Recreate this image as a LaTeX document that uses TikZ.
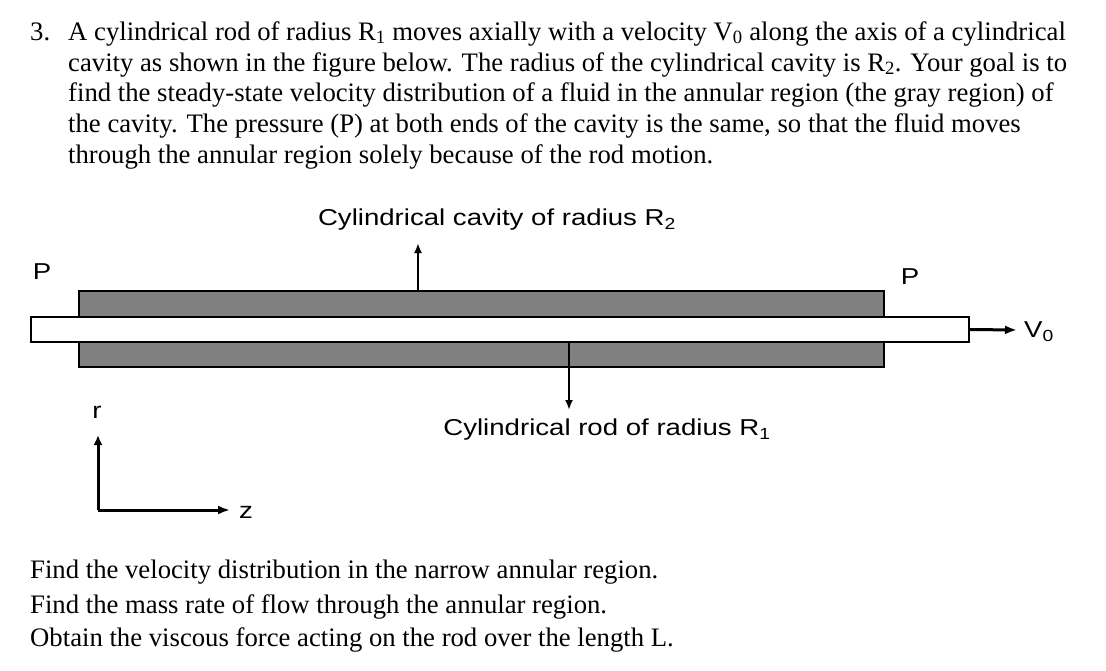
\documentclass[tikz,border=0pt]{standalone}
\usetikzlibrary{arrows.meta}
\usepackage{fontspec}
\setmainfont{Liberation Serif}
\newfontfamily\labfont[FakeStretch=1.2]{Liberation Sans}
\newcommand{\sbs}[1]{\textsubscript{#1}}
\begin{document}
\begin{tikzpicture}[x=1pt,y=-1pt,
  qline/.style={anchor=base west,inner sep=0pt,font=\fontsize{26.7}{30}\selectfont},
  lab/.style={inner sep=0pt,font=\labfont\fontsize{23}{26}\selectfont},
  arr/.style={-{Latex[length=10pt,width=8pt]},line width=2pt}]
\useasboundingbox (0,0) rectangle (1106,670);
\node[qline] (n3) at (30,40) {3.};
\node[qline] (l1) at (68,40) {A cylindrical rod of radius R\sbs{1} moves axially with a velocity V\sbs{0} along the axis of a cylindrical};
\node[qline] (l2) at (68,71) {cavity as shown in the figure below. The radius of the cylindrical cavity is R\sbs{2}. Your goal is to};
\node[qline] (l3) at (68,101) {find the steady-state velocity distribution of a fluid in the annular region (the gray region) of};
\node[qline] (l4) at (68,132) {the cavity. The pressure (P) at both ends of the cavity is the same, so that the fluid moves};
\node[qline] (l5) at (68,163) {through the annular region solely because of the rod motion.};
\node[qline] (b1) at (30,578) {Find the velocity distribution in the narrow annular region.};
\node[qline] (b2) at (30,613) {Find the mass rate of flow through the annular region.};
\node[qline] (b3) at (30,646) {Obtain the viscous force acting on the rod over the length L.};
% cavity
\draw[fill=black!50,line width=2pt] (79,291) rectangle (884,367);
\node[draw,fill=white,line width=2pt,minimum width=938pt,minimum height=25pt,inner sep=0pt] (rod) at (500,329.5) {};
\coordinate (ct) at (418,291);
\coordinate (ch) at (418,243);
\draw[arr] (ct) -- (ch);
\node[lab] (cl) at (497,220) {Cylindrical cavity of radius R\textsubscript{2}};
\coordinate (rt) at (569,342);
\coordinate (rh) at (569,410);
\draw[arr] (rt) -- (rh);
\node[lab] (rl) at (607,430) {Cylindrical rod of radius R\textsubscript{1}};
\node[lab,anchor=west] (v0) at (1024,332) {V\textsubscript{0}};
\draw[-{Latex[length=12pt,width=9pt]},line width=3pt] (rod.east) -- (1017,330);
\node[lab] (p1) at (42,272) {P};
\node[lab] (p2) at (910,277) {P};
\node[lab] (r) at (97,412) {r};
\node[lab] (z) at (246,512) {z};
\coordinate (o) at (98,510);
\draw[-{Latex[length=10pt,width=9pt]},line width=3pt] (o) -- (98,435);
\draw[-{Latex[length=12pt,width=9pt]},line width=3pt] (o) -- (230,510);
\end{tikzpicture}
\end{document}
